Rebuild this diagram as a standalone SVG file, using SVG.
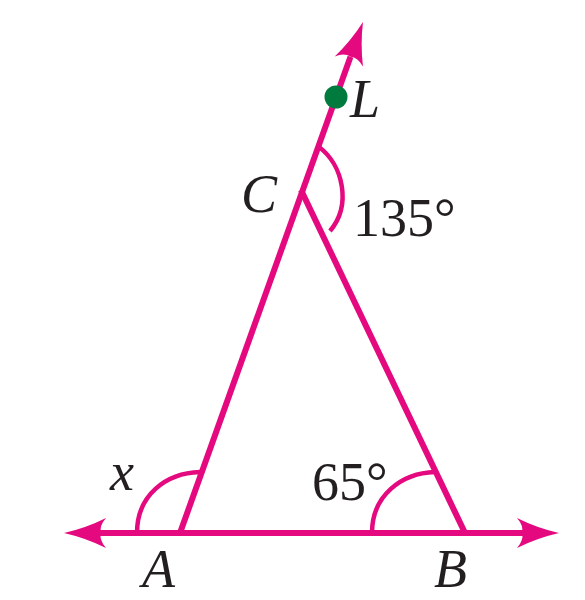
<svg xmlns="http://www.w3.org/2000/svg" width="585" height="600" viewBox="0 0 585 600">
<style>
.ln{stroke:#E5097F;stroke-width:6;fill:none;stroke-linecap:butt}
.arc{stroke:#E5097F;stroke-width:4.5;fill:none}
.ah{fill:#E5097F}
.lbl{font-family:"Liberation Serif","Times New Roman",serif;font-style:italic;font-size:54px;fill:#231F20}
.num{font-family:"Liberation Serif","Times New Roman",serif;font-size:54px;fill:#231F20}
</style>
<defs>
<path id="head" d="M0,0 Q-22,-5 -42,-15 Q-35,-7 -37,0 Q-35,7 -42,15 Q-22,5 0,0 Z"/>
</defs>
<rect width="585" height="600" fill="#fff"/>
<g id="connectors">
<line class="ln" x1="98" y1="533" x2="524" y2="533"/>
<line class="ln" x1="180" y1="533" x2="350.5" y2="56.8"/>
<line class="ln" x1="465" y1="533" x2="301" y2="190"/>
<use href="#head" class="ah" transform="translate(64,533) rotate(180)"/>
<use href="#head" class="ah" transform="translate(559,533)"/>
<use href="#head" class="ah" transform="translate(363,22) rotate(-70.3)"/>
</g>
<g id="angle-x">
<path class="arc" d="M137,533 C137,495 166,473 200,472"/>
<text class="lbl" x="110" y="490">x</text>
</g>
<g id="angle-65">
<path class="arc" d="M372,533 C372,495 402,473 435,472"/>
<text class="num" x="312" y="500">65°</text>
</g>
<g id="angle-135">
<path class="arc" d="M319,147 C343,165 352,205 330,231"/>
<text class="num" x="353" y="236">135°</text>
</g>
<g id="node-A"><text class="lbl" x="142" y="587">A</text></g>
<g id="node-B"><text class="lbl" x="434" y="587">B</text></g>
<g id="node-C"><text class="lbl" x="241" y="212">C</text></g>
<g id="node-L">
<circle cx="336" cy="97" r="11.5" fill="#007A3D"/>
<text class="lbl" x="350" y="117">L</text>
</g>
</svg>
